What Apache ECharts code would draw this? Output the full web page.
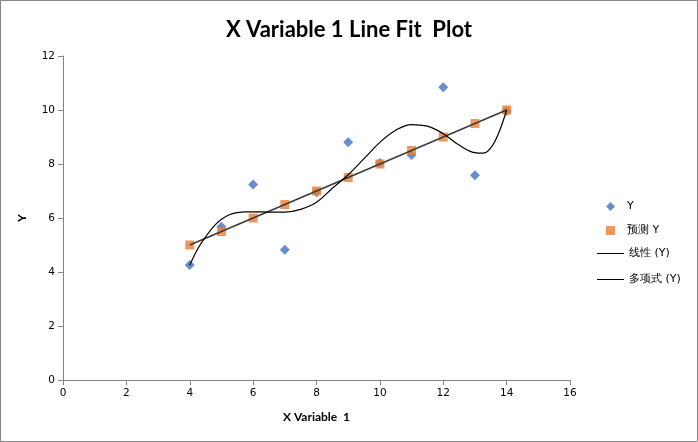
<!DOCTYPE html>
<html><head><meta charset="utf-8">
<script src="https://cdn.jsdelivr.net/npm/echarts@6/dist/echarts.min.js"></script>
<style>html,body{margin:0;padding:0;background:#fff}#c{width:698px;height:442px}</style>
</head><body><div id="c"></div>
<script>
const xValues = [4, 5, 6, 7, 8, 9, 10, 11, 12, 13, 14];
const yValues = [4.26, 5.68, 7.24, 4.82, 6.95, 8.81, 8.04, 8.33, 10.84, 7.58, 9.96];
const predictedY = [5.0, 5.5, 6.0, 6.5, 7.0, 7.5, 8.0, 8.5, 9.0, 9.5, 10.0];
const linearFit = [[4, 5.0], [14, 10.0]];
const polyX = [4, 4.25, 4.5, 4.75, 5, 5.25, 5.5, 5.75, 6, 6.5, 7, 7.5, 8, 8.5, 9, 9.5, 10, 10.5, 11, 11.5, 12, 12.5, 13, 13.25, 13.5, 13.75, 14];
const polyY = [4.25, 4.85, 5.30, 5.68, 5.95, 6.12, 6.20, 6.23, 6.23, 6.22, 6.22, 6.32, 6.58, 7.10, 7.60, 8.20, 8.80, 9.25, 9.46, 9.40, 9.12, 8.70, 8.42, 8.40, 8.60, 9.15, 10.0];
const xTicks = [0, 2, 4, 6, 8, 10, 12, 14, 16];
const yTicks = [0, 2, 4, 6, 8, 10, 12];

const chart = echarts.init(document.getElementById('c'));
const tickFont = {fontFamily: 'DejaVu Sans', fontSize: 10.5, color: '#000'};
chart.setOption({
  animation: false,
  title: {text: 'X Variable 1 Line Fit  Plot', left: 'center', top: 14,
    textStyle: {fontFamily: 'Lato', fontWeight: 'bold', fontSize: 22, color: '#000'}},
  graphic: [{type: 'rect', shape: {x: 0.5, y: 0.5, width: 697, height: 441},
    style: {fill: 'none', stroke: '#868686', lineWidth: 1}, silent: true}],
  grid: {left: 63, right: 128, top: 56, bottom: 62},
  legend: [
    {data: ['Y', '预测 Y'], orient: 'vertical', left: 606, top: 201, padding: 0, itemWidth: 9, itemHeight: 9, itemGap: 13,
     textStyle: {fontFamily: 'DejaVu Sans', fontSize: 11, color: '#000', padding: [0, 0, 0, 7]}},
    {data: ['线性 (Y)', '多项式 (Y)'], orient: 'vertical', left: 597, top: 248, padding: 0, itemWidth: 27, itemHeight: 10, itemGap: 15,
     icon: 'path://M0,4.5H27V5.5H0Z',
     textStyle: {fontFamily: 'DejaVu Sans', fontSize: 11, color: '#000'}}
  ],
  xAxis: {type: 'value', min: 0, max: 16, interval: 2, name: 'X Variable  1', nameLocation: 'middle', nameGap: 31,
    nameTextStyle: {fontFamily: 'Lato', fontWeight: 'bold', fontSize: 12, color: '#000'},
    axisLine: {show: true, lineStyle: {color: '#868686'}}, axisTick: {show: true, length: 5, lineStyle: {color: '#868686'}},
    axisLabel: Object.assign({margin: 8, formatter: v => xTicks.includes(v) ? String(v) : ''}, tickFont), splitLine: {show: false}},
  yAxis: {type: 'value', min: 0, max: 12, interval: 2, name: 'Y', nameLocation: 'middle', nameGap: 35,
    nameTextStyle: {fontFamily: 'Lato', fontWeight: 'bold', fontSize: 12, color: '#000'},
    axisLine: {show: true, lineStyle: {color: '#868686'}}, axisTick: {show: true, length: 5, lineStyle: {color: '#868686'}},
    axisLabel: Object.assign({margin: 8, formatter: v => yTicks.includes(v) ? String(v) : ''}, tickFont), splitLine: {show: false}},
  series: [
    {name: 'Y', type: 'scatter', symbol: 'diamond', symbolSize: 10, itemStyle: {color: '#4472C4'},
     data: xValues.map((x, i) => [x, yValues[i]]), z: 2},
    {name: '预测 Y', type: 'scatter', symbol: 'rect', symbolSize: 9, itemStyle: {color: '#ED7D31'},
     data: xValues.map((x, i) => [x, predictedY[i]]), z: 2},
    {name: '线性 (Y)', type: 'line', showSymbol: false, symbol: 'none', lineStyle: {color: '#3a3a3a', width: 1.5},
     itemStyle: {color: '#000'}, data: linearFit, z: 3},
    {name: '多项式 (Y)', type: 'line', showSymbol: false, symbol: 'none', smooth: 0.4, lineStyle: {color: '#000', width: 1.2},
     itemStyle: {color: '#000'}, data: polyX.map((x, i) => [x, polyY[i]]), z: 4}
  ]
});
</script></body></html>
